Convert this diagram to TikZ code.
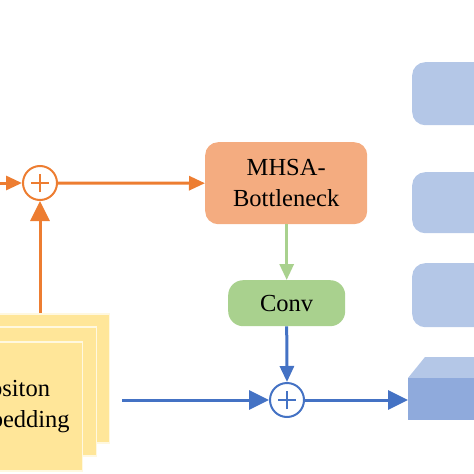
\documentclass[tikz,border=0pt]{standalone}
\usepackage{fontspec}
\setmainfont{Liberation Serif}
\usetikzlibrary{arrows.meta}
\definecolor{orangeL}{HTML}{ED7D31}
\definecolor{salmon}{HTML}{F4AC80}
\definecolor{greenF}{HTML}{A9D18E}
\definecolor{blueL}{HTML}{4472C4}
\definecolor{blueF}{HTML}{B4C7E7}
\definecolor{blueD}{HTML}{8FAADC}
\definecolor{yellowF}{HTML}{FFE699}
\begin{document}
\begin{tikzpicture}[x=1pt,y=-1pt,
  lbl/.style={font=\fontsize{24.5}{31}\selectfont, align=center, text=black},
  rbox/.style={rounded corners=13pt, minimum width=162pt, minimum height=82pt, inner sep=0pt},
  ybox/.style={rectangle, fill=yellowF, draw=white!70!yellowF, line width=1.5pt, inner sep=0pt},
  sumc/.style={circle, draw, fill=white, line width=2pt, minimum size=34pt, inner sep=0pt},
  arr/.style={line width=3pt, -{Triangle[length=20pt,width=19pt]}},
  arrs/.style={line width=3pt, -{Triangle[length=16pt,width=14pt]}},
  plusmark/.style={line width=1.6pt}
]
\useasboundingbox (0,0) rectangle (474,474);
\clip (0,0) rectangle (474,474);

% right blue boxes
\node[rbox, fill=blueF, minimum width=90pt, minimum height=63pt, anchor=north west] (b1) at (412,62) {};
\node[rbox, fill=blueF, minimum width=90pt, minimum height=61pt, anchor=north west] (b2) at (412,172) {};
\node[rbox, fill=blueF, minimum width=90pt, minimum height=64pt, anchor=north west] (b3) at (412,263) {};

% blue block
\fill[blueF] (408,378) -- (425,357) -- (480,357) -- (480,378) -- cycle;
\node[fill=blueD, minimum width=72pt, minimum height=42pt, inner sep=0pt, anchor=north west] (blk) at (408,378) {};

% yellow stack
\node[ybox, minimum width=144pt, minimum height=129pt, anchor=north east] (y3) at (110,313) {};
\node[ybox, minimum width=145pt, minimum height=129pt, anchor=north east] (y2) at (97,326) {};
\node[ybox, minimum width=138pt, minimum height=129pt, anchor=north east, lbl] (y1) at (83,341) {Positon\\Embedding};

% MHSA & Conv
\node[rbox, fill=salmon, anchor=north west, lbl] (mhsa) at (205,142) {MHSA-\\Bottleneck};
\node[rbox, fill=greenF, rounded corners=15pt, minimum width=117pt, minimum height=46pt, anchor=north west, lbl] (conv) at (228,280) {Conv};

% sum circles
\node[sumc, draw=orangeL] (s1) at (40,183) {};
\draw[plusmark, orangeL] ([xshift=-9pt]s1.center) -- ([xshift=9pt]s1.center);
\draw[plusmark, orangeL] ([yshift=-9pt]s1.center) -- ([yshift=9pt]s1.center);
\node[sumc, draw=blueL] (s2) at (287,400) {};
\draw[plusmark, blueL] ([xshift=-9pt]s2.center) -- ([xshift=9pt]s2.center);
\draw[plusmark, blueL] ([yshift=-9pt]s2.center) -- ([yshift=9pt]s2.center);

% connectors
\coordinate (inL) at (-5,183);
\coordinate (inB) at (122,400);
\draw[arrs, orangeL] (inL) -- (s1.west);
\draw[arrs, orangeL] (s1.east) -- (mhsa.west);
\draw[arr, orangeL] (y3.north -| s1) -- (s1.south);
\draw[arrs, greenF] (mhsa.south -| conv) -- (conv.north);
\draw[arrs, blueL] (conv.south) -- (s2.north);
\draw[arr, blueL] (inB) -- (s2.west);
\draw[arr, blueL] (s2.east) -- (s2.east -| blk.west);
\end{tikzpicture}
\end{document}
